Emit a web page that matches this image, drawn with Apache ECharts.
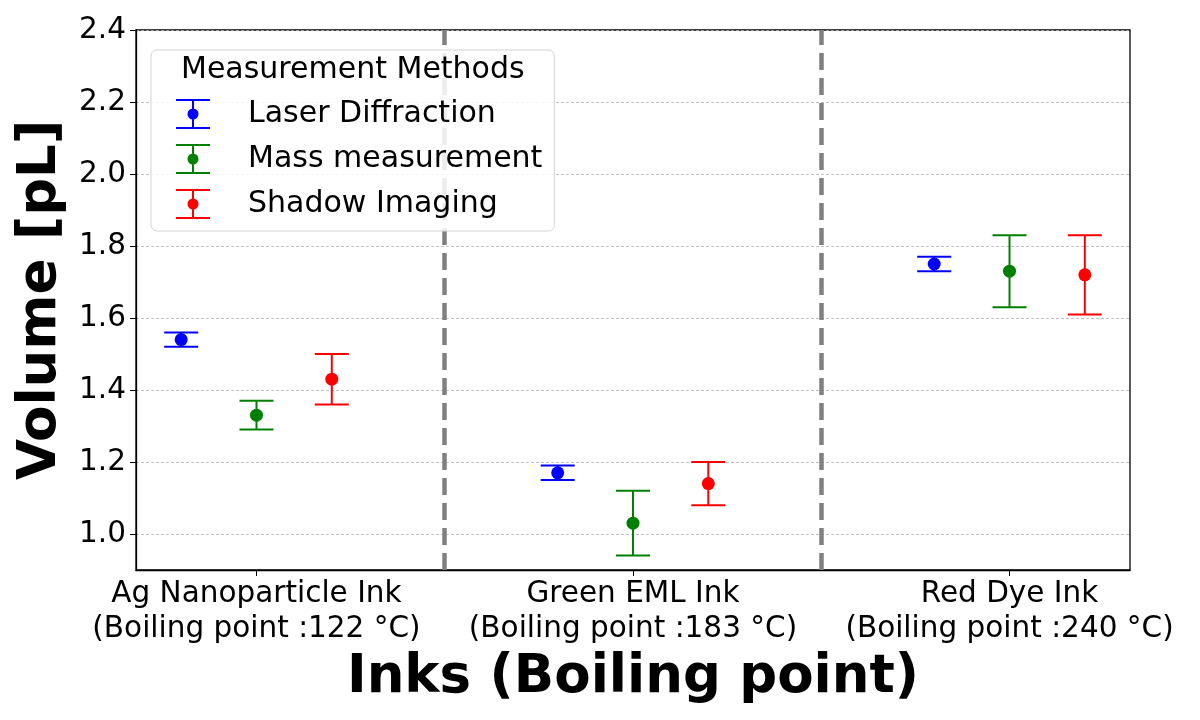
<!DOCTYPE html>
<html>
<head>
<meta charset="UTF-8">
<title>Inks volume</title>
<script src="https://cdn.jsdelivr.net/npm/echarts@6.0.0/dist/echarts.min.js"></script>
<style>
  html, body { margin: 0; padding: 0; background: #fff; }
  #chart { width: 1200px; height: 720px; }
</style>
</head>
<body>
<div id="chart"></div>
<script>
// ink categories (x positions 0,1,2)
var inks = ['Ag Nanoparticle Ink', 'Green EML Ink', 'Red Dye Ink'];
var boiling = ['122', '183', '240'];
var separators = [0.5, 1.5];

// mean volume [pL] and error per method
var laserMean  = [1.54, 1.17, 1.75];
var laserErr   = [0.02, 0.02, 0.02];
var massMean   = [1.33, 1.03, 1.73];
var massErr    = [0.04, 0.09, 0.10];
var shadowMean = [1.43, 1.14, 1.72];
var shadowErr  = [0.07, 0.06, 0.11];

var yTicks = [1.0, 1.2, 1.4, 1.6, 1.8, 2.0, 2.2, 2.4];

var FONT = 'DejaVu Sans';
// errorbar-with-dot legend icon
var ebIcon = 'path://M0 0H34V2H0Z M16 0H18V30H16Z M0 28H34V30H0Z M11.5 15A5.5 5.5 0 1 1 22.5 15A5.5 5.5 0 1 1 11.5 15Z';

var methods = [
  {name: 'Laser Diffraction', color: '#0000ff', mean: laserMean, err: laserErr, off: -0.2},
  {name: 'Mass measurement', color: '#008000', mean: massMean, err: massErr, off: 0},
  {name: 'Shadow Imaging', color: '#ff0000', mean: shadowMean, err: shadowErr, off: 0.2}
];

function errorBar(params, api) {
  var x = api.value(0), y = api.value(1), e = api.value(2);
  var top = api.coord([x, y + e]);
  var bot = api.coord([x, y - e]);
  var half = 17;
  var st = {stroke: api.visual('color'), lineWidth: 2};
  return {
    type: 'group',
    children: [
      {type: 'line', shape: {x1: top[0], y1: top[1], x2: bot[0], y2: bot[1]}, style: st},
      {type: 'line', shape: {x1: top[0] - half, y1: top[1], x2: top[0] + half, y2: top[1]}, style: st},
      {type: 'line', shape: {x1: bot[0] - half, y1: bot[1], x2: bot[0] + half, y2: bot[1]}, style: st}
    ]
  };
}

var series = [];
methods.forEach(function (m, k) {
  var pts = [], bars = [];
  for (var i = 0; i < inks.length; i++) {
    pts.push([i + m.off, m.mean[i]]);
    bars.push([i + m.off, m.mean[i], m.err[i]]);
  }
  series.push({
    name: m.name, type: 'custom', renderItem: errorBar, data: bars,
    encode: {x: 0, y: 1}, itemStyle: {color: m.color}, z: 3, silent: true
  });
  var sc = {
    name: m.name, type: 'scatter', data: pts, symbolSize: 13,
    itemStyle: {color: m.color, opacity: 1}, z: 4
  };
  if (k === 0) {
    sc.markLine = {
      silent: true, symbol: 'none', label: {show: false},
      lineStyle: {color: '#808080', width: 4.5, type: [17, 8]},
      data: separators.map(function (s) { return {xAxis: s}; })
    };
  }
  series.push(sc);
});

var chart = echarts.init(document.getElementById('chart'));
chart.setOption({
  animation: false,
  textStyle: {fontFamily: FONT},
  title: {
    text: 'Measurement Methods', left: 176, top: 50, z: 10,
    textStyle: {fontFamily: FONT, fontSize: 30, fontWeight: 'normal', color: '#000'}
  },
  legend: {
    orient: 'vertical', left: 151, top: 50, z: 8,
    padding: [47, 12, 10, 25],
    itemWidth: 34, itemHeight: 30, itemGap: 11,
    backgroundColor: 'rgba(255,255,255,0.85)',
    borderColor: '#d3d3d3', borderWidth: 1, borderRadius: 6,
    data: methods.map(function (m) { return {name: m.name, icon: ebIcon, itemStyle: {color: m.color}}; }),
    textStyle: {fontFamily: FONT, fontSize: 30, lineHeight: 34, color: '#000', padding: [0, 0, 0, 33]}
  },
  grid: {
    left: 136, right: 70, top: 30, bottom: 150,
    show: true, borderColor: '#000', borderWidth: 1.3
  },
  xAxis: {
    type: 'value', min: -0.32, max: 2.32,
    name: 'Inks (Boiling point)', nameLocation: 'middle', nameGap: 78,
    nameTextStyle: {fontFamily: FONT, fontSize: 53, fontWeight: 'bold', color: '#000'},
    axisLine: {lineStyle: {color: '#000', width: 1.3}},
    axisTick: {customValues: [0, 1, 2], length: 6, lineStyle: {color: '#000'}},
    axisLabel: {
      customValues: [0, 1, 2], margin: 7,
      fontFamily: FONT, fontSize: 29.5, lineHeight: 35, color: '#000',
      formatter: function (v) {
        var i = Math.round(v);
        return inks[i] + '\n(Boiling point :' + boiling[i] + ' °C)';
      }
    },
    splitLine: {show: false}
  },
  yAxis: {
    type: 'value', min: 0.9, max: 2.4,
    name: 'Volume [pL]', nameLocation: 'middle', nameGap: 54,
    nameTextStyle: {fontFamily: FONT, fontSize: 53, fontWeight: 'bold', color: '#000'},
    axisLine: {show: true, onZero: false, lineStyle: {color: '#000', width: 1.3}},
    axisTick: {show: true, customValues: yTicks, length: 6, lineStyle: {color: '#000'}},
    axisLabel: {
      customValues: yTicks, margin: 10,
      fontFamily: FONT, fontSize: 29.5, color: '#000',
      formatter: function (v) { return v.toFixed(1); }
    },
    splitLine: {show: true, lineStyle: {color: '#b0b0b0', width: 0.8, type: [3, 2]}}
  },
  series: series
});
</script>
</body>
</html>
